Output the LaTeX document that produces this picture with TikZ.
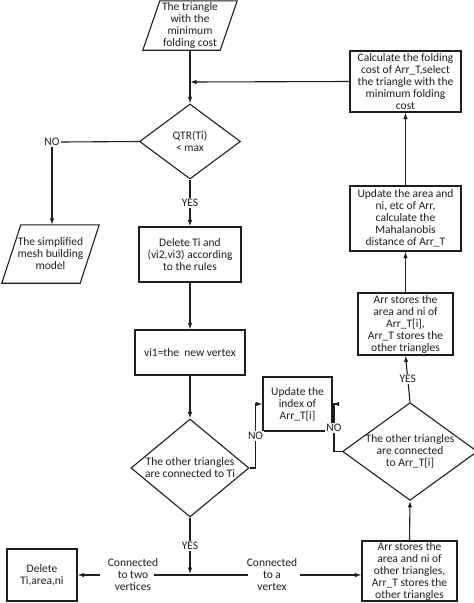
\documentclass[tikz,border=0pt]{standalone}
\usepackage{fontspec}
\setmainfont{Carlito}
\usetikzlibrary{shapes.geometric,arrows.meta,calc}
\definecolor{ink}{RGB}{30,30,30}
\begin{document}
\begin{tikzpicture}[x=1pt,y=-1pt,
  every node/.style={font=\fontsize{11.5}{12}\selectfont, text=ink, align=center, inner sep=0pt},
  line/.style={draw=ink, line width=1.1pt},
  arr/.style={line, -{Latex[length=6.5pt,width=4.5pt]}},
  boxnode/.style={draw=ink, line width=1.1pt, rectangle},
  paranode/.style={rectangle},
  dia/.style={draw=ink, line width=1.1pt, diamond},
  lbl/.style={fill=white, inner sep=1.2pt}
]
\fill[white] (0,0) rectangle (474,603);
\useasboundingbox (0,0) rectangle (474,603);

% nodes
\node[paranode, minimum width=94pt, minimum height=49pt] (top) at (190,25.5) {The triangle\\with the\\minimum\\folding cost};
\node[dia, minimum width=101pt, minimum height=75pt, aspect=1.35] (qtr) at (190,141.5) {QTR(Ti)\\< max};
\node[paranode, minimum width=97pt, minimum height=58pt] (simp) at (50.5,254) {The simplified\\mesh building\\model};
\node[boxnode, minimum width=102pt, minimum height=55pt] (del) at (190,254.5) {Delete Ti and\\(vi2,vi3) according\\to the rules};
\node[boxnode, minimum width=110pt, minimum height=45pt] (vi) at (190,352.5) {vi1=the\ \ new vertex};
\node[dia, minimum width=118pt, minimum height=98pt, aspect=1.2] (dTi) at (190,468) {The other triangles\\are connected to Ti};
\node[boxnode, minimum width=69pt, minimum height=54pt] (upd) at (297.5,404) {Update the\\index of\\Arr\_T[i]};
\node[dia, minimum width=126pt, minimum height=91pt, aspect=1.38] (dArr) at (410,451.5) {The other triangles\\are connected\\to Arr\_T[i]};
\node[boxnode, minimum width=95pt, minimum height=60pt] (lowR) at (409.5,571) {Arr stores the\\area and ni of\\other triangles,\\Arr\_T stores the\\other triangles};
\node[boxnode, minimum width=70pt, minimum height=52pt] (delT) at (42,575) {Delete\\Ti,area,ni};
\node[boxnode, minimum width=95pt, minimum height=62pt] (arr1) at (405.5,324) {Arr stores the\\area and ni of\\Arr\_T[i],\\Arr\_T stores the\\other triangles};
\node[boxnode, minimum width=111pt, minimum height=65pt] (updA) at (405.5,218.5) {Update the area and\\ni, etc of Arr,\\calculate the\\Mahalanobis\\distance of Arr\_T};
\node[boxnode, minimum width=111pt, minimum height=61pt] (calc) at (405.5,81.5) {Calculate the folding\\cost of Arr\_T,select\\the triangle with the\\minimum folding\\cost};

% parallelogram outlines
\draw[line, line join=miter] (top.south west) -- ($(top.south east)+(-17,0)$) -- (top.north east) -- ($(top.north west)+(17,0)$) -- cycle;
\draw[line, line join=miter] (simp.south west) -- ($(simp.south east)+(-19,0)$) -- (simp.north east) -- ($(simp.north west)+(19,0)$) -- cycle;

% labels
\node[lbl] (no1) at (52,142) {NO};
\node (c2) at (133,575) {Connected\\to two\\vertices};
\node (c1) at (272,575) {Connected\\to a\\vertex};
\coordinate (j1) at (190,82);
\coordinate (j2) at (190,574);

% connectors
\draw[arr] (top.south) -- (qtr.north);
\draw[arr] (calc.west) -- (j1);
\draw[line] (qtr.west) -- (no1.east);
\draw[arr] (no1.south) -- (no1.south |- simp.north);
\draw[arr] (qtr.south) -- node[lbl]{YES} (del.north);
\draw[arr] (del.south) -- (vi.north);
\draw[arr] (vi.south) -- (dTi.north);
\draw[arr] (dTi.east) -- ++(6,0) |- node[lbl, pos=0.25]{NO} (upd.west);
\draw[arr] (dArr.west) -- ++(-8,0) |- node[lbl, pos=0.25]{NO} (upd.east);
\draw[arr] (dTi.south) -- node[lbl]{YES} (j2);
\draw[line] ([xshift=-4pt]c2.east) -- ([xshift=1pt]c1.west);
\draw[arr] ([xshift=-8pt]c2.west) -- (delT.east);
\draw[arr] ([xshift=3pt]c1.east) -- (c1.east -| lowR.west);
\draw[arr] (lowR.north) -- (dArr.south);
\draw[arr] (dArr.north) -- node[lbl]{YES} (arr1.south);
\draw[arr] (arr1.north) -- (updA.south);
\draw[arr] (updA.north) -- (calc.south);
\end{tikzpicture}
\end{document}
